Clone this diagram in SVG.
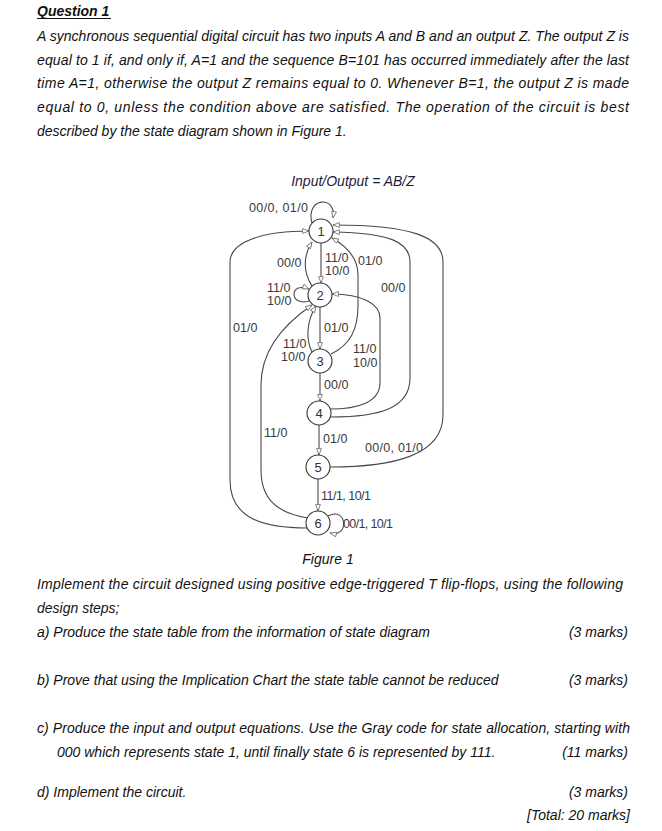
<svg xmlns="http://www.w3.org/2000/svg" width="662" height="831" viewBox="0 0 662 831">
<style>
.t{font-family:"Liberation Sans",Arial,sans-serif;font-size:14px;font-style:italic;fill:#111}
.q{font-family:"Liberation Sans",Arial,sans-serif;font-size:14px;font-style:italic;font-weight:bold;fill:#111}
.io{font-family:"Liberation Sans",Arial,sans-serif;font-size:14px;font-style:italic;fill:#1c1c40}
.lb{font-family:"Liberation Sans",Arial,sans-serif;font-size:12.5px;fill:#3a3a3a}
.nt{font-family:"Liberation Sans",Arial,sans-serif;font-size:13px;fill:#333;text-anchor:middle}
.nc{fill:#fff;stroke:#3a3a3a;stroke-width:1.1}
.e{fill:none;stroke:#4a4a4a;stroke-width:1.1;marker-end:url(#ah)}
</style>
<defs>
<marker id="ah" viewBox="0 0 10 8" refX="9" refY="4" markerWidth="8" markerHeight="6.4" markerUnits="userSpaceOnUse" orient="auto">
<path d="M1,1 L9,4 L1,7 z" fill="#fff" stroke="#666" stroke-width="1"/>
</marker>
</defs>
<rect width="662" height="831" fill="#fff"/>
<g id="text-top">
<text class="q" x="37" y="16">Question 1</text>
<line x1="37" y1="18.5" x2="111" y2="18.5" stroke="#111" stroke-width="1"/>
<text class="t" x="37" y="41" textLength="592" lengthAdjust="spacing">A synchronous sequential digital circuit has two inputs A and B and an output Z. The output Z is</text>
<text class="t" x="37" y="65" textLength="592" lengthAdjust="spacing">equal to 1 if, and only if, A=1 and the sequence B=101 has occurred immediately after the last</text>
<text class="t" x="37" y="88" textLength="592" lengthAdjust="spacing">time A=1, otherwise the output Z remains equal to 0. Whenever B=1, the output Z is made</text>
<text class="t" x="37" y="112" textLength="592" lengthAdjust="spacing">equal to 0, unless the condition above are satisfied. The operation of the circuit is best</text>
<text class="t" x="37" y="136">described by the state diagram shown in Figure 1.</text>
<text class="io" x="353" y="186" text-anchor="middle">Input/Output = AB/Z</text>
</g>
<g id="connectors">
<path class="e" d="M312,223 C305,197 337,195 333,218"/>
<path class="e" d="M321,243 L321,283"/>
<path class="e" d="M312,286 C303,272 303,256 312,242"/>
<path class="e" d="M331,354 C350,345 358,330 358,305 L358,275 C358,260 348,247 332,238"/>
<path class="e" d="M331,417 C380,417 410,408 410,378 L410,262 C410,242 390,233 333,232"/>
<path class="e" d="M330,467 C392,467 443,456 443,415 L443,262 C443,237 412,225 333,225"/>
<path class="e" d="M307,528 C255,528 230,514 230,480 L230,262 C230,242 262,231 309,231"/>
<path class="e" d="M330,409 C358,409 380,402 380,383 L380,318 C380,304 362,294 332,294"/>
<path class="e" d="M309,301 C289,307 289,281 309,289"/>
<path class="e" d="M308,518 C276,513 261,498 261,470 L261,385 C261,345 290,320 312,305"/>
<path class="e" d="M312,352 C306,340 306,322 316,306"/>
<path class="e" d="M320,307 L320,349"/>
<path class="e" d="M320,373 L320,401"/>
<path class="e" d="M319,425 L319,455"/>
<path class="e" d="M318,479 L318,511"/>
<path class="e" d="M328,516 C347,506 350,538 330,533"/>
</g>
<g id="node1"><circle class="nc" cx="321" cy="231" r="12"/><text class="nt" x="321" y="235.5">1</text></g>
<g id="node2"><circle class="nc" cx="320" cy="295" r="12"/><text class="nt" x="320" y="299.5">2</text></g>
<g id="node3"><circle class="nc" cx="320" cy="361" r="12"/><text class="nt" x="320" y="365.5">3</text></g>
<g id="node4"><circle class="nc" cx="319" cy="413" r="12"/><text class="nt" x="319" y="417.5">4</text></g>
<g id="node5"><circle class="nc" cx="318" cy="467" r="12"/><text class="nt" x="318" y="471.5">5</text></g>
<g id="node6"><circle class="nc" cx="318" cy="523" r="12"/><text class="nt" x="318" y="527.5">6</text></g>
<g id="labels">
<text class="lb" x="249" y="212" textLength="59" lengthAdjust="spacing">00/0, 01/0</text>
<text class="lb" x="277" y="267">00/0</text>
<text class="lb" x="325" y="262">11/0</text>
<text class="lb" x="325" y="275">10/0</text>
<text class="lb" x="358" y="265">01/0</text>
<text class="lb" x="267" y="292">11/0</text>
<text class="lb" x="267" y="305">10/0</text>
<text class="lb" x="381" y="292">00/0</text>
<text class="lb" x="233" y="332">01/0</text>
<text class="lb" x="324" y="332">01/0</text>
<text class="lb" x="283" y="348">11/0</text>
<text class="lb" x="281" y="361">10/0</text>
<text class="lb" x="353" y="353">11/0</text>
<text class="lb" x="353" y="367">10/0</text>
<text class="lb" x="324" y="389">00/0</text>
<text class="lb" x="264" y="437">11/0</text>
<text class="lb" x="323" y="443">01/0</text>
<text class="lb" x="365" y="452" textLength="58" lengthAdjust="spacing">00/0, 01/0</text>
<text class="lb" x="321" y="500" textLength="50" lengthAdjust="spacing">11/1, 10/1</text>
<text class="lb" x="343" y="528" textLength="50" lengthAdjust="spacing">00/1, 10/1</text>
</g>
<g id="text-bottom">
<text class="t" x="328" y="564" text-anchor="middle">Figure 1</text>
<text class="t" x="37" y="589" textLength="586" lengthAdjust="spacing">Implement the circuit designed using positive edge-triggered T flip-flops, using the following</text>
<text class="t" x="37" y="613">design steps;</text>
<text class="t" x="37" y="637">a) Produce the state table from the information of state diagram</text>
<text class="t" x="628" y="637" text-anchor="end">(3 marks)</text>
<text class="t" x="37" y="685">b) Prove that using the Implication Chart the state table cannot be reduced</text>
<text class="t" x="628" y="685" text-anchor="end">(3 marks)</text>
<text class="t" x="37" y="733" textLength="593" lengthAdjust="spacing">c) Produce the input and output equations. Use the Gray code for state allocation, starting with</text>
<text class="t" x="57" y="757">000 which represents state 1, until finally state 6 is represented by 111.</text>
<text class="t" x="628" y="757" text-anchor="end">(11 marks)</text>
<text class="t" x="37" y="797">d) Implement the circuit.</text>
<text class="t" x="628" y="797" text-anchor="end">(3 marks)</text>
<text class="t" x="630" y="820" text-anchor="end">[Total: 20 marks]</text>
</g>
</svg>
